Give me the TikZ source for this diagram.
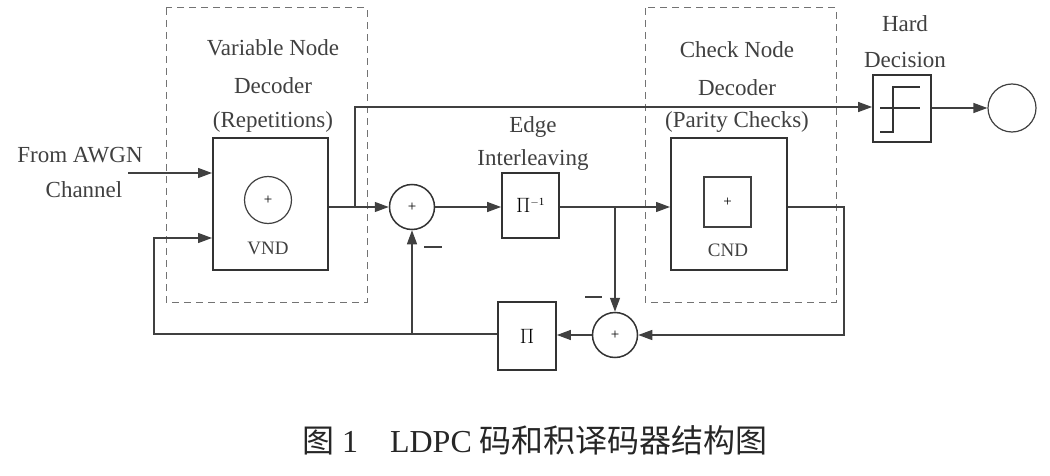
\documentclass[tikz,border=0pt]{standalone}
\usepackage{fontspec}
\setmainfont{Liberation Serif}
\newfontfamily\cjk{Noto Sans CJK SC}
\usetikzlibrary{arrows.meta}
\begin{document}
\begin{tikzpicture}[x=1pt,y=-1pt,
  ln/.style={draw=black!75,line width=1.3pt},
  arr/.style={ln,-{Triangle[length=14pt,width=10pt]}},
  blk/.style={draw=black!80,line width=2pt,fill=white},
  dsh/.style={draw=black!55,line width=1pt,dash pattern=on 7pt off 5pt},
  sum/.style={circle,draw=black!80,line width=1.5pt,minimum size=45pt,inner sep=0pt,font=\fontsize{15}{15}\selectfont},
  lbl/.style={text=black!75,font=\fontsize{23}{23}\selectfont,inner sep=0pt}]
\useasboundingbox (0,0) rectangle (1050,476);
% dashed groups
\draw[dsh] (166,8) rectangle (367,302);
\draw[dsh] (645,8) rectangle (836,302);
\node[lbl] (t1) at (273,48) {Variable Node};
\node[lbl] (t2) at (273,86) {Decoder};
\node[lbl] (t3) at (273,122) {(Repetitions)};
\node[lbl] (t4) at (737,50) {Check Node};
\node[lbl] (t5) at (737,88) {Decoder};
\node[lbl] (t6) at (737,122) {(Parity Checks)};
\node[lbl] (t7) at (533,127) {Edge};
\node[lbl] (t8) at (533,160) {Interleaving};
\node[lbl] (t9) at (905,24) {Hard};
\node[lbl] (t10) at (905,60) {Decision};
\node[lbl] (t11) at (80,155) {From AWGN};
\node[lbl] (t12) at (84,190) {Channel};
% blocks
\node[blk,minimum width=115pt,minimum height=132pt,inner sep=0pt] (vnd) at (270.5,204) {};
\node[circle,draw=black!75,line width=1.2pt,minimum size=47pt,inner sep=0pt,font=\fontsize{15}{15}\selectfont] (vc) at (268,200) {+};
\node[lbl,font=\fontsize{19}{19}\selectfont] (vt) at (268,248) {VND};
\node[blk,minimum width=116pt,minimum height=132pt,inner sep=0pt] (cnd) at (729,204) {};
\node[draw=black!75,line width=1.2pt,minimum width=47pt,minimum height=50pt,inner sep=0pt,font=\fontsize{15}{15}\selectfont] (cc) at (727.5,202) {+};
\node[lbl,font=\fontsize{19}{19}\selectfont] (ct) at (728,250) {CND};
\node[blk,line width=1.8pt,minimum width=57pt,minimum height=65pt,inner sep=0pt,font=\fontsize{22}{22}\selectfont] (pinv) at (530.5,205.5) {$\Pi^{\scriptscriptstyle\mathrm{-1}}$};
\node[blk,line width=1.8pt,minimum width=58pt,minimum height=68pt,inner sep=0pt,font=\fontsize{22}{22}\selectfont] (pi) at (527,336) {$\Pi$};
\node[blk,line width=1.8pt,minimum width=58pt,minimum height=67pt,inner sep=0pt] (hd) at (902,108.5) {};
\draw[black!80,line width=1.8pt] (880,108) -- (920,108) (880,132) -- (893,132) -- (893,87) -- (920,87);
\node[circle,draw=black!75,line width=1.2pt,minimum size=48pt,inner sep=0pt] (out) at (1012,108) {};
\node[sum] (s1) at (412,207) {+};
\node[sum] (s2) at (615,335) {+};
% coordinates
\coordinate (in) at (128,173);
\coordinate (br1) at (355,207);
\coordinate (br2) at (615,207);
\coordinate (br3) at (412,334);
% connectors
\draw[arr] (in) -- (vnd.west |- in);
\draw[arr] (vnd.east |- s1) -- (s1);
\draw[arr] (br1) |- (hd.west |- 0,107);
\draw[arr] (hd.east |- 0,108) -- (out);
\draw[arr] (s1) -- (pinv.west |- s1);
\draw[arr] (pinv.east |- 0,207) -- (cnd.west |- 0,207);
\draw[arr] (br2) -- (s2);
\draw[arr] (cnd.east |- 0,207) -| (844,335) -- (s2);
\draw[arr] (s2) -- (pi.east |- s2);
\draw[arr] (pi.west |- 0,334) -| (154,238) -- (vnd.west |- 0,238);
\draw[arr] (br3) -- (s1);
\draw[ln] (424,247) -- (442,247) (585,297) -- (602,297);
% caption
\node[inner sep=0pt,text=black!85,font=\fontsize{32}{32}\selectfont] (cap) at (535,440) {{\cjk 图} 1\quad LDPC {\cjk 码和积译码器结构图}};
\end{tikzpicture}
\end{document}
